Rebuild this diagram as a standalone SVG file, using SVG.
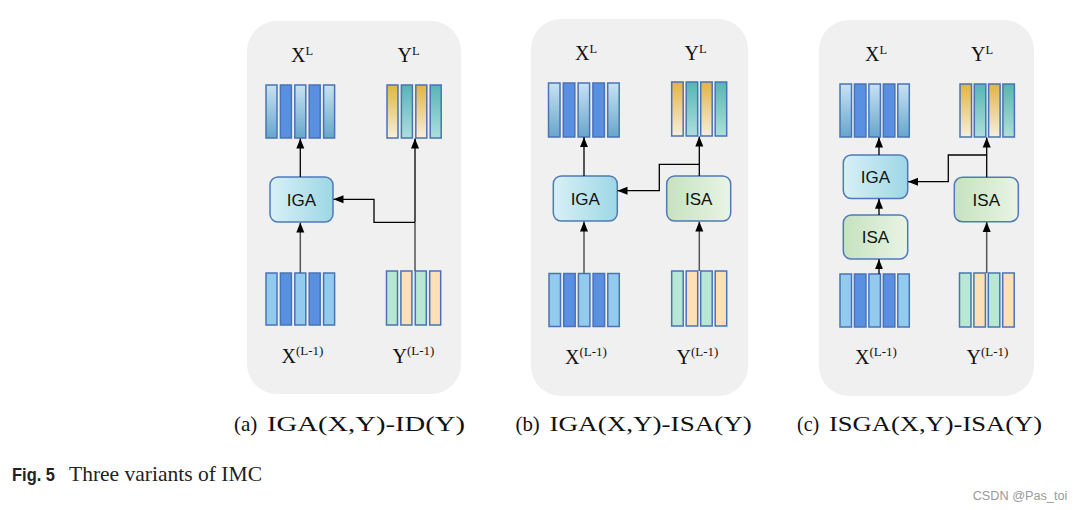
<svg xmlns="http://www.w3.org/2000/svg" width="1077" height="510" viewBox="0 0 1077 510">
<defs>
<linearGradient id="gXL" x1="0" y1="0" x2="0" y2="1"><stop offset="0" stop-color="#c8e2f3"/><stop offset="1" stop-color="#67a6cb"/></linearGradient>
<linearGradient id="gGold" x1="0" y1="0" x2="0" y2="1"><stop offset="0" stop-color="#e2b443"/><stop offset="1" stop-color="#f8eedd"/></linearGradient>
<linearGradient id="gTeal" x1="0" y1="0" x2="0" y2="1"><stop offset="0" stop-color="#57b5b5"/><stop offset="1" stop-color="#addfdc"/></linearGradient>
<linearGradient id="gIGA" x1="0" y1="0" x2="1" y2="0"><stop offset="0" stop-color="#d8f0f6"/><stop offset="1" stop-color="#9dd7e5"/></linearGradient>
<linearGradient id="gISA" x1="0" y1="0" x2="1" y2="0"><stop offset="0" stop-color="#c6e2bf"/><stop offset="1" stop-color="#e9f4e5"/></linearGradient>
<marker id="ah" markerUnits="userSpaceOnUse" markerWidth="10" markerHeight="10" viewBox="0 0 10 10" refX="10" refY="5" orient="auto"><path d="M0,1 L10,5 L0,9 Z" fill="#000"/></marker>
</defs>
<style>
.panel{fill:#f0f0f0}
.bar{stroke:#4a73b5;stroke-width:1.5}
.xg{fill:url(#gXL)}
.xb{fill:#5a90e2}
.xl{fill:#93cbee}
.yg{fill:url(#gGold)}
.yt{fill:url(#gTeal)}
.ym{fill:#b8e8d4}
.yp{fill:#fde0b6}
.box{stroke:#4f7ab8;stroke-width:1.5}
.iga{fill:url(#gIGA)}
.isa{fill:url(#gISA)}
.bt{font-family:"Liberation Sans",Arial,sans-serif;font-size:17px;fill:#111;text-anchor:middle}
.lab{font-family:"Liberation Serif","Times New Roman",serif;font-size:20px;fill:#111}
.sup1{font-size:12.5px}
.sup2{font-size:13px}
.cap{font-family:"Liberation Serif","Times New Roman",serif;font-size:21.5px;fill:#111}
.k{fill:none;stroke:#000;stroke-width:1.3}
.g{fill:none;stroke:#555;stroke-width:1.5}
</style>
<rect width="1077" height="510" fill="#fff"/>
<rect class="panel" x="247" y="21" width="214" height="373" rx="30"/>
<rect class="panel" x="531" y="19" width="217" height="377" rx="30"/>
<rect class="panel" x="819" y="20" width="215" height="376" rx="30"/>

<!-- Panel a -->
<g id="a-XL"><text class="lab" x="291" y="62">X<tspan class="sup1" dy="-7">L</tspan></text>
<rect class="bar xg" x="266" y="85" width="11" height="53"/><rect class="bar xb" x="280.4" y="85" width="11" height="53"/><rect class="bar xg" x="294.8" y="85" width="11" height="53"/><rect class="bar xb" x="309.2" y="85" width="11" height="53"/><rect class="bar xg" x="323.6" y="85" width="11" height="53"/></g>
<g id="a-YL"><text class="lab" x="397.5" y="62">Y<tspan class="sup1" dy="-7">L</tspan></text>
<rect class="bar yg" x="387" y="85" width="11" height="53"/><rect class="bar yt" x="401.4" y="85" width="11" height="53"/><rect class="bar yg" x="415.8" y="85" width="11" height="53"/><rect class="bar yt" x="430.2" y="85" width="11" height="53"/></g>
<g id="a-IGA"><rect class="box iga" x="270" y="177" width="63" height="45" rx="8"/><text class="bt" x="301.5" y="205.5">IGA</text></g>
<g id="a-X0"><rect class="bar xl" x="266" y="273" width="11" height="52"/><rect class="bar xb" x="280.4" y="273" width="11" height="52"/><rect class="bar xl" x="294.8" y="273" width="11" height="52"/><rect class="bar xb" x="309.2" y="273" width="11" height="52"/><rect class="bar xl" x="323.6" y="273" width="11" height="52"/>
<text class="lab" x="281.5" y="363">X<tspan class="sup2" dy="-8">(L-1)</tspan></text></g>
<g id="a-Y0"><rect class="bar ym" x="386.5" y="271" width="11" height="54"/><rect class="bar yp" x="400.9" y="271" width="11" height="54"/><rect class="bar ym" x="415.3" y="271" width="11" height="54"/><rect class="bar yp" x="429.7" y="271" width="11" height="54"/>
<text class="lab" x="392.5" y="363">Y<tspan class="sup2" dy="-8">(L-1)</tspan></text></g>

<!-- Panel b -->
<g id="b-XL"><text class="lab" x="575" y="60">X<tspan class="sup1" dy="-7">L</tspan></text>
<rect class="bar xg" x="548.5" y="83" width="11.5" height="54"/><rect class="bar xb" x="563.3" y="83" width="11.5" height="54"/><rect class="bar xg" x="578.1" y="83" width="11.5" height="54"/><rect class="bar xb" x="592.9" y="83" width="11.5" height="54"/><rect class="bar xg" x="607.7" y="83" width="11.5" height="54"/></g>
<g id="b-YL"><text class="lab" x="684.5" y="60">Y<tspan class="sup1" dy="-7">L</tspan></text>
<rect class="bar yg" x="671.7" y="82" width="11.5" height="54"/><rect class="bar yt" x="686.2" y="82" width="11.5" height="54"/><rect class="bar yg" x="700.7" y="82" width="11.5" height="54"/><rect class="bar yt" x="715.2" y="82" width="11.5" height="54"/></g>
<g id="b-IGA"><rect class="box iga" x="553.3" y="176" width="64" height="45" rx="8"/><text class="bt" x="585.3" y="204.5">IGA</text></g>
<g id="b-ISA"><rect class="box isa" x="666.7" y="176" width="64" height="45" rx="8"/><text class="bt" x="698.7" y="204.5">ISA</text></g>
<g id="b-X0"><rect class="bar xl" x="549" y="273.5" width="11.5" height="53"/><rect class="bar xb" x="563.7" y="273.5" width="11.5" height="53"/><rect class="bar xl" x="578.4" y="273.5" width="11.5" height="53"/><rect class="bar xb" x="593.1" y="273.5" width="11.5" height="53"/><rect class="bar xl" x="607.8" y="273.5" width="11.5" height="53"/>
<text class="lab" x="565" y="364">X<tspan class="sup2" dy="-8">(L-1)</tspan></text></g>
<g id="b-Y0"><rect class="bar ym" x="671.7" y="271" width="11.5" height="55"/><rect class="bar yp" x="686.2" y="271" width="11.5" height="55"/><rect class="bar ym" x="700.7" y="271" width="11.5" height="55"/><rect class="bar yp" x="715.2" y="271" width="11.5" height="55"/>
<text class="lab" x="676.5" y="364">Y<tspan class="sup2" dy="-8">(L-1)</tspan></text></g>

<!-- Panel c -->
<g id="c-XL"><text class="lab" x="865" y="61">X<tspan class="sup1" dy="-7">L</tspan></text>
<rect class="bar xg" x="840" y="84" width="11.5" height="53"/><rect class="bar xb" x="854.45" y="84" width="11.5" height="53"/><rect class="bar xg" x="868.9" y="84" width="11.5" height="53"/><rect class="bar xb" x="883.35" y="84" width="11.5" height="53"/><rect class="bar xg" x="897.8" y="84" width="11.5" height="53"/></g>
<g id="c-YL"><text class="lab" x="971" y="61">Y<tspan class="sup1" dy="-7">L</tspan></text>
<rect class="bar yg" x="960" y="84" width="11.5" height="53"/><rect class="bar yt" x="974.3" y="84" width="11.5" height="53"/><rect class="bar yg" x="988.6" y="84" width="11.5" height="53"/><rect class="bar yt" x="1002.9" y="84" width="11.5" height="53"/></g>
<g id="c-IGA"><rect class="box iga" x="843.3" y="155" width="64.4" height="43.5" rx="8"/><text class="bt" x="875.5" y="183">IGA</text></g>
<g id="c-ISA1"><rect class="box isa" x="843.3" y="215" width="64.4" height="44" rx="8"/><text class="bt" x="875.5" y="243">ISA</text></g>
<g id="c-ISA2"><rect class="box isa" x="954.3" y="177.3" width="64" height="44.4" rx="8"/><text class="bt" x="986.3" y="205.5">ISA</text></g>
<g id="c-X0"><rect class="bar xl" x="840" y="274" width="11.5" height="53"/><rect class="bar xb" x="854.45" y="274" width="11.5" height="53"/><rect class="bar xl" x="868.9" y="274" width="11.5" height="53"/><rect class="bar xb" x="883.35" y="274" width="11.5" height="53"/><rect class="bar xl" x="897.8" y="274" width="11.5" height="53"/>
<text class="lab" x="855" y="364">X<tspan class="sup2" dy="-8">(L-1)</tspan></text></g>
<g id="c-Y0"><rect class="bar ym" x="959.5" y="273" width="11.5" height="54"/><rect class="bar yp" x="973.9" y="273" width="11.5" height="54"/><rect class="bar ym" x="988.3" y="273" width="11.5" height="54"/><rect class="bar yp" x="1002.7" y="273" width="11.5" height="54"/>
<text class="lab" x="966.5" y="364">Y<tspan class="sup2" dy="-8">(L-1)</tspan></text></g>

<g id="connectors">
<!-- a -->
<path class="k" d="M300.3,177 V138.5" marker-end="url(#ah)"/>
<path class="g" d="M300.3,273 V222.5" marker-end="url(#ah)"/>
<path class="g" d="M415,271 V222.3"/>
<path class="k" d="M415,222.3 V138.5" marker-end="url(#ah)"/>
<path class="k" d="M415,222.3 H374 V199.3 H333.5" marker-end="url(#ah)"/>
<!-- b -->
<path class="k" d="M584,176 V137.2" marker-end="url(#ah)"/>
<path class="g" d="M584,273.5 V221.5" marker-end="url(#ah)"/>
<path class="g" d="M699.3,271 V221.5" marker-end="url(#ah)"/>
<path class="k" d="M699.3,176 V136.5" marker-end="url(#ah)"/>
<path class="k" d="M699.3,164.3 H659.3 V190.7 H617.5" marker-end="url(#ah)"/>
<!-- c -->
<path class="k" d="M879,155 V137.5" marker-end="url(#ah)"/>
<path class="k" d="M879,215 V198.7" marker-end="url(#ah)"/>
<path class="k" d="M879,274 V259.2" marker-end="url(#ah)"/>
<path class="g" d="M986.7,273 V222" marker-end="url(#ah)"/>
<path class="k" d="M986.7,177.3 V137.5" marker-end="url(#ah)"/>
<path class="k" d="M986.7,155 H948.3 V181.7 H908" marker-end="url(#ah)"/>
</g>

<g id="captions">
<text class="cap" x="234" y="431" textLength="23.4" lengthAdjust="spacingAndGlyphs">(a)</text>
<text class="cap" x="267" y="431" textLength="198" lengthAdjust="spacingAndGlyphs">IGA(X,Y)-ID(Y)</text>
<text class="cap" x="515.5" y="431" textLength="24.3" lengthAdjust="spacingAndGlyphs">(b)</text>
<text class="cap" x="549.5" y="431" textLength="202.4" lengthAdjust="spacingAndGlyphs">IGA(X,Y)-ISA(Y)</text>
<text class="cap" x="797" y="431" textLength="22.3" lengthAdjust="spacingAndGlyphs">(c)</text>
<text class="cap" x="829" y="431" textLength="213" lengthAdjust="spacingAndGlyphs">ISGA(X,Y)-ISA(Y)</text>
<text x="12" y="481" font-family="'Liberation Sans',Arial,sans-serif" font-weight="bold" font-size="18.5" fill="#222" textLength="43" lengthAdjust="spacingAndGlyphs">Fig. 5</text>
<text x="69" y="481" font-family="'Liberation Serif','Times New Roman',serif" font-size="21" fill="#222" textLength="193" lengthAdjust="spacingAndGlyphs">Three variants of IMC</text>
<text x="972.7" y="500" font-family="'Liberation Sans',Arial,sans-serif" font-size="12.5" fill="#9a9a9a" textLength="94.6" lengthAdjust="spacingAndGlyphs">CSDN @Pas_toi</text>
</g>
</svg>
